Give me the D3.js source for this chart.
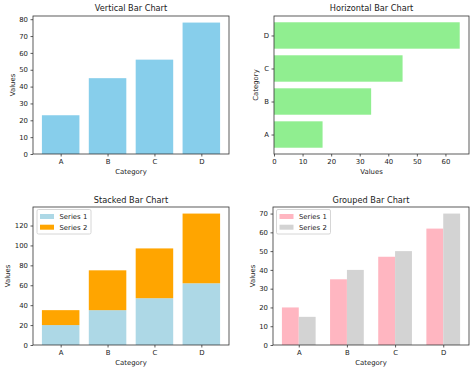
<!DOCTYPE html>
<html><head><meta charset="utf-8">
<script src="https://cdn.jsdelivr.net/npm/d3@7"></script>
<style>
body{margin:0;background:#fff;}
svg text{font-family:"DejaVu Sans",sans-serif;fill:#222;}
</style></head>
<body>
<svg id="c" width="474" height="372"></svg>
<script>
const categories = ["A","B","C","D"];
const verticalValues = [23,45,56,78];
const horizontalValues = [17,34,45,65];
const series1 = [20,35,47,62];
const series2 = [15,40,50,70];
const seriesNames = ["Series 1","Series 2"];
const ticksV = [0,10,20,30,40,50,60,70,80];
const ticksH = [0,10,20,30,40,50,60];
const ticksS = [0,20,40,60,80,100,120];
const ticksG = [0,10,20,30,40,50,60,70];

const svg = d3.select("#c");
const TICK=6.9, TITLE=8.2;
const idx = categories.map((d,i)=>i);

function frame(g,b){
  g.append("rect").attr("x",b.l).attr("y",b.t).attr("width",b.r-b.l).attr("height",b.b-b.t)
   .attr("fill","none").attr("stroke","#333").attr("stroke-width",0.8);
}
function styleAxis(a){
  a.select(".domain").remove();
  a.selectAll("line").attr("stroke","#333").attr("stroke-width",0.8);
  a.selectAll("text").attr("font-size",TICK).attr("fill","#222");
}
function titles(g,b,title,xl,yl,titleY,xlY,ylX){
  g.append("text").attr("x",(b.l+b.r)/2).attr("y",titleY).attr("text-anchor","middle").attr("font-size",TITLE).text(title);
  g.append("text").attr("x",(b.l+b.r)/2).attr("y",xlY).attr("text-anchor","middle").attr("font-size",TICK).text(xl);
  g.append("text").attr("transform",`translate(${ylX},${(b.t+b.b)/2}) rotate(-90)`).attr("text-anchor","middle").attr("font-size",TICK).text(yl);
}
function legend(g,x,y,colors){
  const lg=g.append("g");
  lg.append("rect").attr("x",x).attr("y",y).attr("width",54).attr("height",24.5).attr("rx",1.5)
    .attr("fill","#fff").attr("fill-opacity",0.8).attr("stroke","#ccc").attr("stroke-width",0.8);
  seriesNames.forEach((n,i)=>{
    lg.append("rect").attr("x",x+3).attr("y",y+4.5+i*10.7).attr("width",14).attr("height",5).attr("fill",colors[i]);
    lg.append("text").attr("x",x+22.5).attr("y",y+9.6+i*10.7).attr("font-size",TICK).text(n);
  });
}

// Panel 1: vertical
{
  const b={l:33,r:229,t:16,b:154};
  const g=svg.append("g");
  const x=d3.scaleLinear().domain([-0.59,3.59]).range([b.l,b.r]);
  const y=d3.scaleLinear().domain([0,81.9]).range([b.b,b.t]);
  g.selectAll(".bar").data(verticalValues).enter().append("rect")
   .attr("x",(d,i)=>x(i-0.4)).attr("width",x(0.4)-x(-0.4))
   .attr("y",d=>y(d)).attr("height",d=>y(0)-y(d)).attr("fill","#87CEEB");
  styleAxis(g.append("g").attr("transform",`translate(0,${b.b})`).call(d3.axisBottom(x).tickValues(idx).tickFormat(i=>categories[i]).tickSize(2.5).tickPadding(2.5)));
  styleAxis(g.append("g").attr("transform",`translate(${b.l},0)`).call(d3.axisLeft(y).tickValues(ticksV).tickSize(2.5).tickPadding(2.5)));
  frame(g,b);
  titles(g,b,"Vertical Bar Chart","Category","Values",10.8,174.2,14.8);
}
// Panel 2: horizontal
{
  const b={l:274,r:469,t:16,b:154};
  const g=svg.append("g");
  const x=d3.scaleLinear().domain([0,68.25]).range([b.l,b.r]);
  const y=d3.scaleLinear().domain([-0.59,3.59]).range([b.b,b.t]);
  g.selectAll(".bar").data(horizontalValues).enter().append("rect")
   .attr("y",(d,i)=>y(i+0.4)).attr("height",y(-0.4)-y(0.4))
   .attr("x",x(0)).attr("width",d=>x(d)-x(0)).attr("fill","#90EE90");
  styleAxis(g.append("g").attr("transform",`translate(0,${b.b})`).call(d3.axisBottom(x).tickValues(ticksH).tickSize(2.5).tickPadding(2.5)));
  styleAxis(g.append("g").attr("transform",`translate(${b.l},0)`).call(d3.axisLeft(y).tickValues(idx).tickFormat(i=>categories[i]).tickSize(2.5).tickPadding(2.5)));
  frame(g,b);
  titles(g,b,"Horizontal Bar Chart","Values","Category",10.8,174.2,258.2);
}
// Panel 3: stacked
{
  const b={l:33,r:229,t:207,b:345};
  const g=svg.append("g");
  const x=d3.scaleLinear().domain([-0.59,3.59]).range([b.l,b.r]);
  const y=d3.scaleLinear().domain([0,138.6]).range([b.b,b.t]);
  g.selectAll(".s1").data(series1).enter().append("rect")
   .attr("x",(d,i)=>x(i-0.4)).attr("width",x(0.4)-x(-0.4))
   .attr("y",d=>y(d)).attr("height",d=>y(0)-y(d)).attr("fill","#ADD8E6");
  g.selectAll(".s2").data(series2).enter().append("rect")
   .attr("x",(d,i)=>x(i-0.4)).attr("width",x(0.4)-x(-0.4))
   .attr("y",(d,i)=>y(d+series1[i])).attr("height",(d,i)=>y(series1[i])-y(d+series1[i])).attr("fill","#FFA500");
  styleAxis(g.append("g").attr("transform",`translate(0,${b.b})`).call(d3.axisBottom(x).tickValues(idx).tickFormat(i=>categories[i]).tickSize(2.5).tickPadding(2.5)));
  styleAxis(g.append("g").attr("transform",`translate(${b.l},0)`).call(d3.axisLeft(y).tickValues(ticksS).tickSize(2.5).tickPadding(2.5)));
  frame(g,b);
  titles(g,b,"Stacked Bar Chart","Category","Values",202.6,365.4,10);
  legend(g,37,209.5,["#ADD8E6","#FFA500"]);
}
// Panel 4: grouped
{
  const b={l:273,r:469,t:207,b:345};
  const g=svg.append("g");
  const w=0.35;
  const x=d3.scaleLinear().domain([-0.535,3.535]).range([b.l,b.r]);
  const y=d3.scaleLinear().domain([0,73.5]).range([b.b,b.t]);
  g.selectAll(".s1").data(series1).enter().append("rect")
   .attr("x",(d,i)=>x(i-w)).attr("width",x(w)-x(0))
   .attr("y",d=>y(d)).attr("height",d=>y(0)-y(d)).attr("fill","#FFB6C1");
  g.selectAll(".s2").data(series2).enter().append("rect")
   .attr("x",(d,i)=>x(i)).attr("width",x(w)-x(0))
   .attr("y",d=>y(d)).attr("height",d=>y(0)-y(d)).attr("fill","#D3D3D3");
  styleAxis(g.append("g").attr("transform",`translate(0,${b.b})`).call(d3.axisBottom(x).tickValues(idx).tickFormat(i=>categories[i]).tickSize(2.5).tickPadding(2.5)));
  styleAxis(g.append("g").attr("transform",`translate(${b.l},0)`).call(d3.axisLeft(y).tickValues(ticksG).tickSize(2.5).tickPadding(2.5)));
  frame(g,b);
  titles(g,b,"Grouped Bar Chart","Category","Values",202.6,365.4,255);
  legend(g,276.5,209.5,["#FFB6C1","#D3D3D3"]);
}
</script>
</body></html>
